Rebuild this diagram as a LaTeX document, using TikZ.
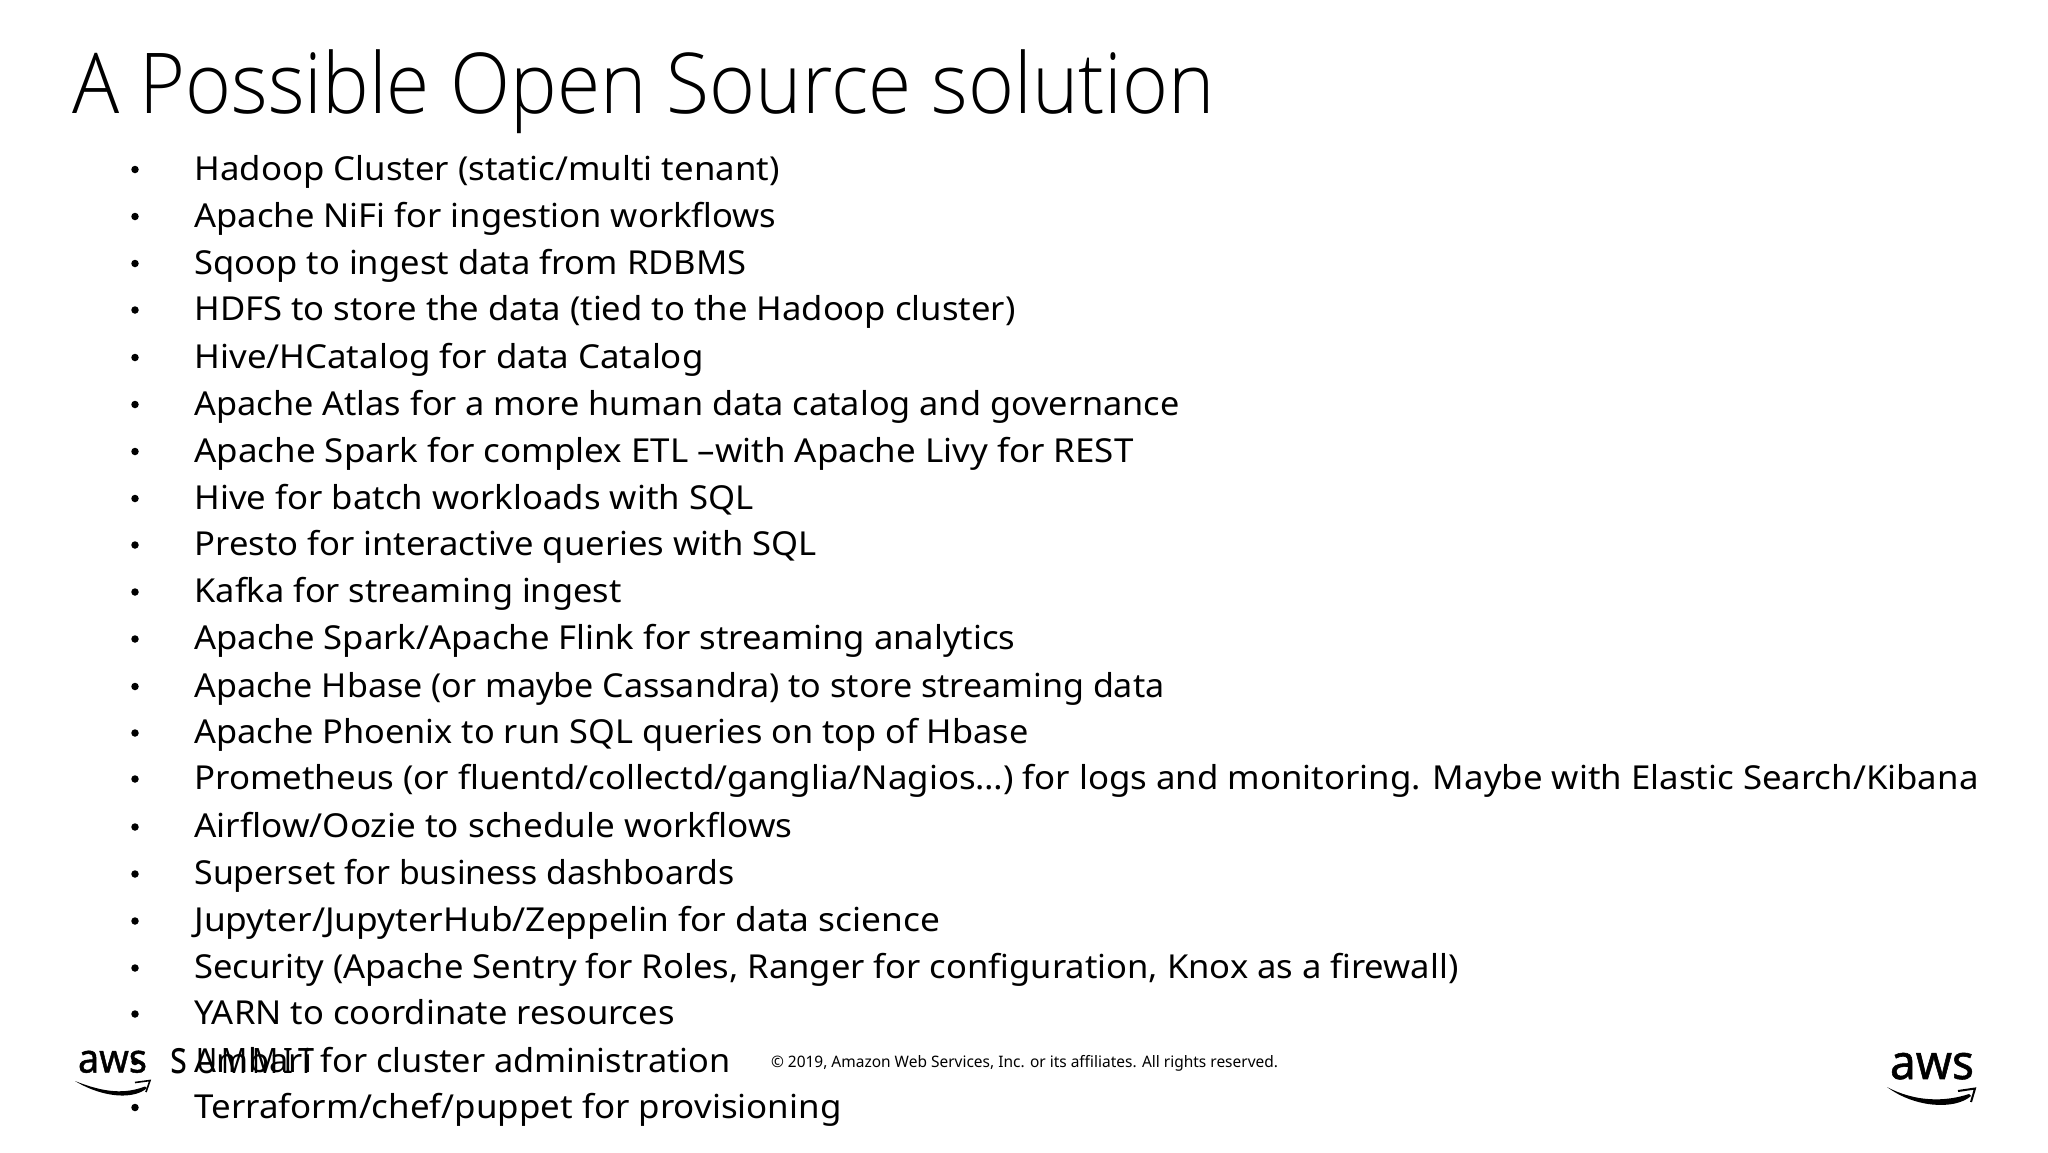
\documentclass[tikz,border=0pt]{standalone}
\usepackage{fontspec}
\usepackage{graphicx}
\setmainfont{Noto Sans}
\newfontfamily\titlefont{Open Sans Light}
\newfontfamily\awsfont[FakeBold=1.2]{Noto Sans}
\newlength{\fitlen}
\newcommand{\fitw}[2]{\settowidth{\fitlen}{#2}\pgfmathsetmacro{\fitr}{#1/(\fitlen/1pt)}\scalebox{\fitr}[1]{#2}}
\tikzset{
 txt/.style={anchor=base west,inner sep=0pt,outer sep=0pt,text=black,font=\fontsize{33}{33}\selectfont},
 dotm/.style={circle,fill=black,inner sep=0pt,minimum size=7.5pt},
 logo/.style={anchor=base west,inner sep=0pt,outer sep=0pt,text=black},
}
\begin{document}
\begin{tikzpicture}[x=1pt,y=-1pt]
\useasboundingbox (0,0) rectangle (2048,1152);
\node[txt,font=\titlefont\fontsize{84}{84}\selectfont] (title) at (72,113) {\fitw{1143}{A Possible Open Source solution}};
\foreach \i/\t/\w/\yy in {
0/{Hadoop Cluster (static/multi tenant)}/585/180,
1/{Apache NiFi for ingestion workflows}/582/227,
2/{Sqoop to ingest data from RDBMS}/552/274,
3/{HDFS to store the data (tied to the Hadoop cluster)}/821/320.5,
4/{Hive/HCatalog for data Catalog}/509/368,
5/{Apache Atlas for a more human data catalog and governance}/985/415,
6/{Apache Spark for complex ETL –with Apache Livy for REST}/939/462,
7/{Hive for batch workloads with SQL}/559/509,
8/{Presto for interactive queries with SQL}/622/555.5,
9/{Kafka for streaming ingest}/427/602.5,
10/{Apache Spark/Apache Flink for streaming analytics}/821/649.5,
11/{Apache Hbase (or maybe Cassandra) to store streaming data}/970/697,
12/{Apache Phoenix to run SQL queries on top of Hbase}/834/743.5,
13/{Prometheus (or fluentd/collectd/ganglia/Nagios…) for logs and monitoring. Maybe with Elastic Search/Kibana}/1784/789.5,
14/{Airflow/Oozie to schedule workflows}/598/837.5,
15/{Superset for business dashboards}/540/884.5,
16/{Jupyter/JupyterHub/Zeppelin for data science}/746/931.5,
17/{Security (Apache Sentry for Roles, Ranger for configuration, Knox as a firewall)}/1264/978.5,
18/{YARN to coordinate resources}/480/1024.5,
19/{Ambari for cluster administration}/536/1072,
20/{Terraform/chef/puppet for provisioning}/647/1118}{
  \node[txt] (line\i) at (194.5,\yy) {\fitw{\w}{\t}};
  \pgfmathsetmacro{\yb}{\yy-10.5}
  \node[dotm] (dot\i) at (135,\yb) {};
}
% summit logo
\node[logo,font=\awsfont\fontsize{40}{40}\selectfont] (awsl) at (78,1072.5) {\fitw{69}{aws}};
\node[logo,font=\fontsize{46}{46}\selectfont] (sm) at (170,1073) {\fitw{17}{s}};
\node[logo,font=\fontsize{35}{35}\selectfont] (um) at (196,1073) {\fitw{118}{U\,M\,M\,I\,T}};
\fill (75,1081) .. controls (105,1099) and (135,1099) .. (147,1088) -- (145,1086.5) .. controls (125,1094) and (105,1093) .. (75,1081) -- cycle;
\draw[line width=1.6pt] (135,1082.5) -- (150,1080.5) -- (146,1092);
% footer
\node[logo,font=\fontsize{15.8}{15.8}\selectfont] (foot) at (771,1067) {\fitw{507}{© 2019, Amazon Web Services, Inc. or its affiliates. All rights reserved.}};
% aws right
\node[logo,font=\awsfont\fontsize{48}{48}\selectfont] (awsr) at (1890,1079) {\fitw{84}{aws}};
\fill (1887,1087) .. controls (1915,1108) and (1955,1110) .. (1971,1096) -- (1969,1094) .. controls (1945,1102) and (1915,1102) .. (1887,1087) -- cycle;
\draw[line width=2pt] (1958,1091) -- (1975,1088.5) -- (1971,1102);
\end{tikzpicture}
\end{document}
